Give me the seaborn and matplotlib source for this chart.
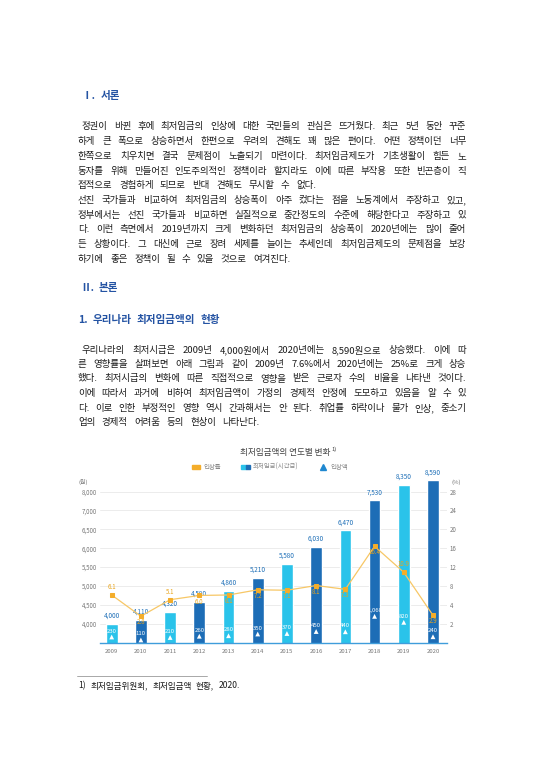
import numpy as np
import pandas as pd
import matplotlib
matplotlib.use('Agg')
import matplotlib.pyplot as plt
import seaborn as sns
from matplotlib.patches import Patch
from matplotlib.lines import Line2D
from matplotlib.legend_handler import HandlerTuple

# chart data: minimum wage by year
years = ['2009', '2010', '2011', '2012', '2013', '2014',
         '2015', '2016', '2017', '2018', '2019', '2020']
wages = [4000, 4110, 4320, 4580, 4860, 5210, 5580, 6030, 6470, 7530, 8350, 8590]
rates = [6.1, 2.8, 5.1, 6.0, 6.1, 7.2, 7.1, 8.1, 7.3, 16.4, 10.9, 2.9]
raises = [230, 110, 210, 260, 280, 350, 370, 450, 440, 1060, 820, 240]
bar_group = ['a', 'b'] * 6
left_ticks = [4000, 4500, 5000, 5500, 6000, 6500, 7000, 8000]
right_ticks = [2, 4, 8, 12, 16, 20, 24, 28]
rate_side = [1, -1, 1, -1, -1, -1, -1, -1, -1, -1, 1, -1]

# page text
heading1 = 'Ⅰ. 서론'
para1 = [
    '정권이 바뀐 후에 최저임금의 인상에 대한 국민들의 관심은 뜨거웠다. 최근 5년 동안 꾸준',
    '하게 큰 폭으로 상승하면서 한편으로 우려의 견해도 꽤 많은 편이다. 어떤 정책이던 너무',
    '한쪽으로 치우치면 결국 문제점이 노출되기 마련이다. 최저임금제도가 기초생활이 힘든 노',
    '동자를 위해 만들어진 인도주의적인 정책이라 할지라도 이에 따른 부작용 또한 빈곤층이 직',
    '접적으로 경험하게 되므로 반대 견해도 무시할 수 없다.',
    '선진 국가들과 비교하여 최저임금의 상승폭이 아주 컸다는 점을 노동계에서 주장하고 있고,',
    '정부에서는 선진 국가들과 비교하면 실질적으로 중간정도의 수준에 해당한다고 주장하고 있',
    '다. 이런 측면에서 2019년까지 크게 변화하던 최저임금의 상승폭이 2020년에는 많이 줄어',
    '든 상황이다. 그 대신에 근로 장려 세제를 늘이는 추세인데 최저임금제도의 문제점을 보강',
    '하기에 좋은 정책이 될 수 있을 것으로 여겨진다.',
]
para1_last = [4, 9]
heading2 = 'Ⅱ. 본론'
heading3 = '1. 우리나라 최저임금액의 현황'
para2 = [
    '우리나라의 최저시급은 2009년 4,000원에서 2020년에는 8,590원으로 상승했다. 이에 따',
    '른 영향률을 살펴보면 아래 그림과 같이 2009년 7.6%에서 2020년에는 25%로 크게 상승',
    '했다. 최저시급의 변화에 따른 직접적으로 영향을 받은 근로자 수의 비율을 나타낸 것이다.',
    '이에 따라서 과거에 비하여 최저임금액이 가정의 경제적 안정에 도모하고 있음을 알 수 있',
    '다. 이로 인한 부정적인 영향 역시 간과해서는 안 된다. 취업률 하락이나 물가 인상, 중소기',
    '업의 경제적 어려움 등의 현상이 나타난다.',
]
para2_last = [5]
chart_title = '최저임금액의 연도별 변화'
footnote = '1) 최저임금위원회, 최저임금액 현황, 2020.'

LIGHT = '#2ac3ea'
DARK = '#1d6db6'
ORANGE = '#f4ad2a'
BLUE_TXT = '#1f70b8'
HEAD = '#2453a3'
BODY = '#1c1c1c'

sns.set_theme(style='white')
plt.rcParams['font.family'] = ['Noto Sans CJK KR', 'DejaVu Sans']

W, H = 543, 768
fig = plt.figure(figsize=(W / 100, H / 100), dpi=100)
renderer = fig.canvas.get_renderer()


def fy(y):
    return 1 - y / H


def put_line(line, y, x0, x1=None, gap=6.5, size=6.8, color=BODY, weight='normal', indent=0):
    # place word by word; justify to x1 when given
    words = line.split(' ')
    texts = [fig.text(0, fy(y), w, fontsize=size, color=color, fontweight=weight, va='center')
             for w in words]
    widths = [t.get_window_extent(renderer).width for t in texts]
    if x1 is not None and len(words) > 1:
        gap = (x1 - x0 - indent - sum(widths)) / (len(words) - 1)
    x = x0 + indent
    for t, w in zip(texts, widths):
        t.set_x(x / W)
        x += w + gap


# headings and paragraphs
put_line(heading1, 96, 82, gap=4.5, size=7.6, color=HEAD, weight='bold')
for i, line in enumerate(para1):
    put_line(line, 127 + 14.7 * i, 78, None if i in para1_last else 466,
             indent=4 if i == 0 else 0)

put_line(heading2, 288, 80, gap=4.5, size=7.6, color=HEAD, weight='bold')
put_line(heading3, 320, 78, gap=5, size=7.6, color=HEAD, weight='bold')
for i, line in enumerate(para2):
    put_line(line, 350 + 14.5 * i, 78, None if i in para2_last else 466,
             indent=4 if i == 0 else 0)

# chart title with superscript
t = fig.text(285 / W, fy(452), chart_title, fontsize=6.2, color='#444444', ha='center', va='center')
ext = t.get_window_extent(renderer)
fig.text((ext.x1 + 1) / W, fy(449), '1)', fontsize=4.2, color='#444444', va='center')

# footnote
fig.add_artist(Line2D([77 / W, 207 / W], [fy(676), fy(676)], color='#9a9a9a', lw=0.6))
put_line(footnote, 686, 78, gap=4.5, size=6.2)

# scales: the chart's left axis jumps 7,000 -> 8,000 in one step
L_VALS = [0, 3500, 7000, 8000, 20000]
L_IDX = [-7, 0, 7, 8, 20]
R_VALS = [-10, 0, 2, 4, 28, 60]
R_IDX = [-5, 0, 1, 2, 8, 16]


def left_fwd(v):
    return np.interp(v, L_VALS, L_IDX)


def left_inv(i):
    return np.interp(i, L_IDX, L_VALS)


def right_fwd(v):
    return np.interp(v, R_VALS, R_IDX)


def right_inv(i):
    return np.interp(i, R_IDX, R_VALS)


df = pd.DataFrame({'year': years, 'wage': wages, 'rate': rates,
                   'raise': raises, 'group': bar_group, 'pos': np.arange(len(years))})

ax = fig.add_axes([100 / W, fy(642.7), 347 / W, 170.1 / H])
sns.barplot(data=df, x='year', y='wage', hue='group', palette={'a': LIGHT, 'b': DARK},
            dodge=False, width=0.4, legend=False, ax=ax, saturation=1)
ax.set_yscale('function', functions=(left_fwd, left_inv))
ax.set_ylim(3500, 9000)
ax.set_xlim(-0.4, 11.48)
ax.set_yticks(left_ticks)
ax.set_yticklabels([f'{v:,}' for v in left_ticks])
ax.yaxis.grid(True, color='#e9e9e9', lw=0.6)
ax.set_axisbelow(True)
for s in ['top', 'left', 'right']:
    ax.spines[s].set_visible(False)
ax.spines['bottom'].set_color('#3f9ddb')
ax.spines['bottom'].set_linewidth(1.0)
ax.set_xlabel('')
ax.set_ylabel('')
ax.tick_params(axis='y', length=0, labelsize=4.4, labelcolor='#777777', pad=2)
ax.tick_params(axis='x', which='major', length=0, labelsize=4.3, labelcolor='#777777', pad=4.5)
ax.set_xticks(list(np.arange(0.5, 11, 1)) + [-0.4, 11.48], minor=True)
ax.tick_params(axis='x', which='minor', length=2.5, color='#3f9ddb', width=0.7, direction='out')
ax.text(-0.035, 1 - 0.5 / 9, '(원)', transform=ax.transAxes, fontsize=4.3,
        color='#777777', ha='right', va='center')

for i, w in enumerate(wages):
    ax.annotate(f'{w:,}', (i, w), xytext=(0, 3), textcoords='offset points',
                ha='center', va='bottom', fontsize=4.6, color=BLUE_TXT)

# rate line
ax2 = ax.twinx()
sns.lineplot(data=df, x='pos', y='rate', ax=ax2, color='#f7c766', lw=0.9,
             marker='s', markersize=3.3, markerfacecolor=ORANGE, markeredgecolor=ORANGE)
ax2.set_yscale('function', functions=(right_fwd, right_inv))
ax2.set_ylim(0, 32)
ax2.set_xlim(-0.4, 11.48)
ax2.set_yticks(right_ticks)
ax2.set_yticklabels([str(v) for v in right_ticks])
ax2.tick_params(axis='y', length=0, labelsize=4.4, labelcolor='#777777', pad=2)
ax2.set_xlabel('')
ax2.set_ylabel('')
for s in ax2.spines.values():
    s.set_visible(False)
ax2.text(1.012, 1 - 0.5 / 9, '(%)', transform=ax2.transAxes, fontsize=4.3,
         color='#777777', ha='left', va='center')
for i, (r, side) in enumerate(zip(rates, rate_side)):
    ax2.annotate(f'{r}', (i, r), xytext=(0, 3 if side > 0 else -1.5),
                 textcoords='offset points', ha='center',
                 va='bottom' if side > 0 else 'top', fontsize=4.4, color='#e9a51c')

# raise amount triangles
ax3 = ax.twinx()
sns.scatterplot(data=df, x='pos', y='raise', ax=ax3, marker='^', s=12,
                color='white', edgecolor='none', legend=False)
ax3.set_ylim(0, 6840)
ax3.set_xlim(-0.4, 11.48)
ax3.axis('off')
for i, v in enumerate(raises):
    ax3.annotate(f'{v:,}', (i, v), xytext=(0, 2.5), textcoords='offset points',
                 ha='center', va='bottom', fontsize=4.3, color='white')

# legend
handles = [Patch(color=ORANGE), (Patch(color=LIGHT), Patch(color=DARK)),
           Line2D([], [], marker='^', color='#1f88d0', ls='none', markersize=4)]
fig.legend(handles=handles, labels=['인상률', '최저임금(시간급)', '인상액'],
           handler_map={tuple: HandlerTuple(ndivide=None, pad=0)},
           ncol=3, loc='center', bbox_to_anchor=(270 / W, fy(467)), frameon=False,
           fontsize=4.6, handlelength=1.3, handleheight=0.7, handletextpad=0.5,
           columnspacing=3.2, labelcolor='#888888')

fig.savefig('out.png', dpi=100)
